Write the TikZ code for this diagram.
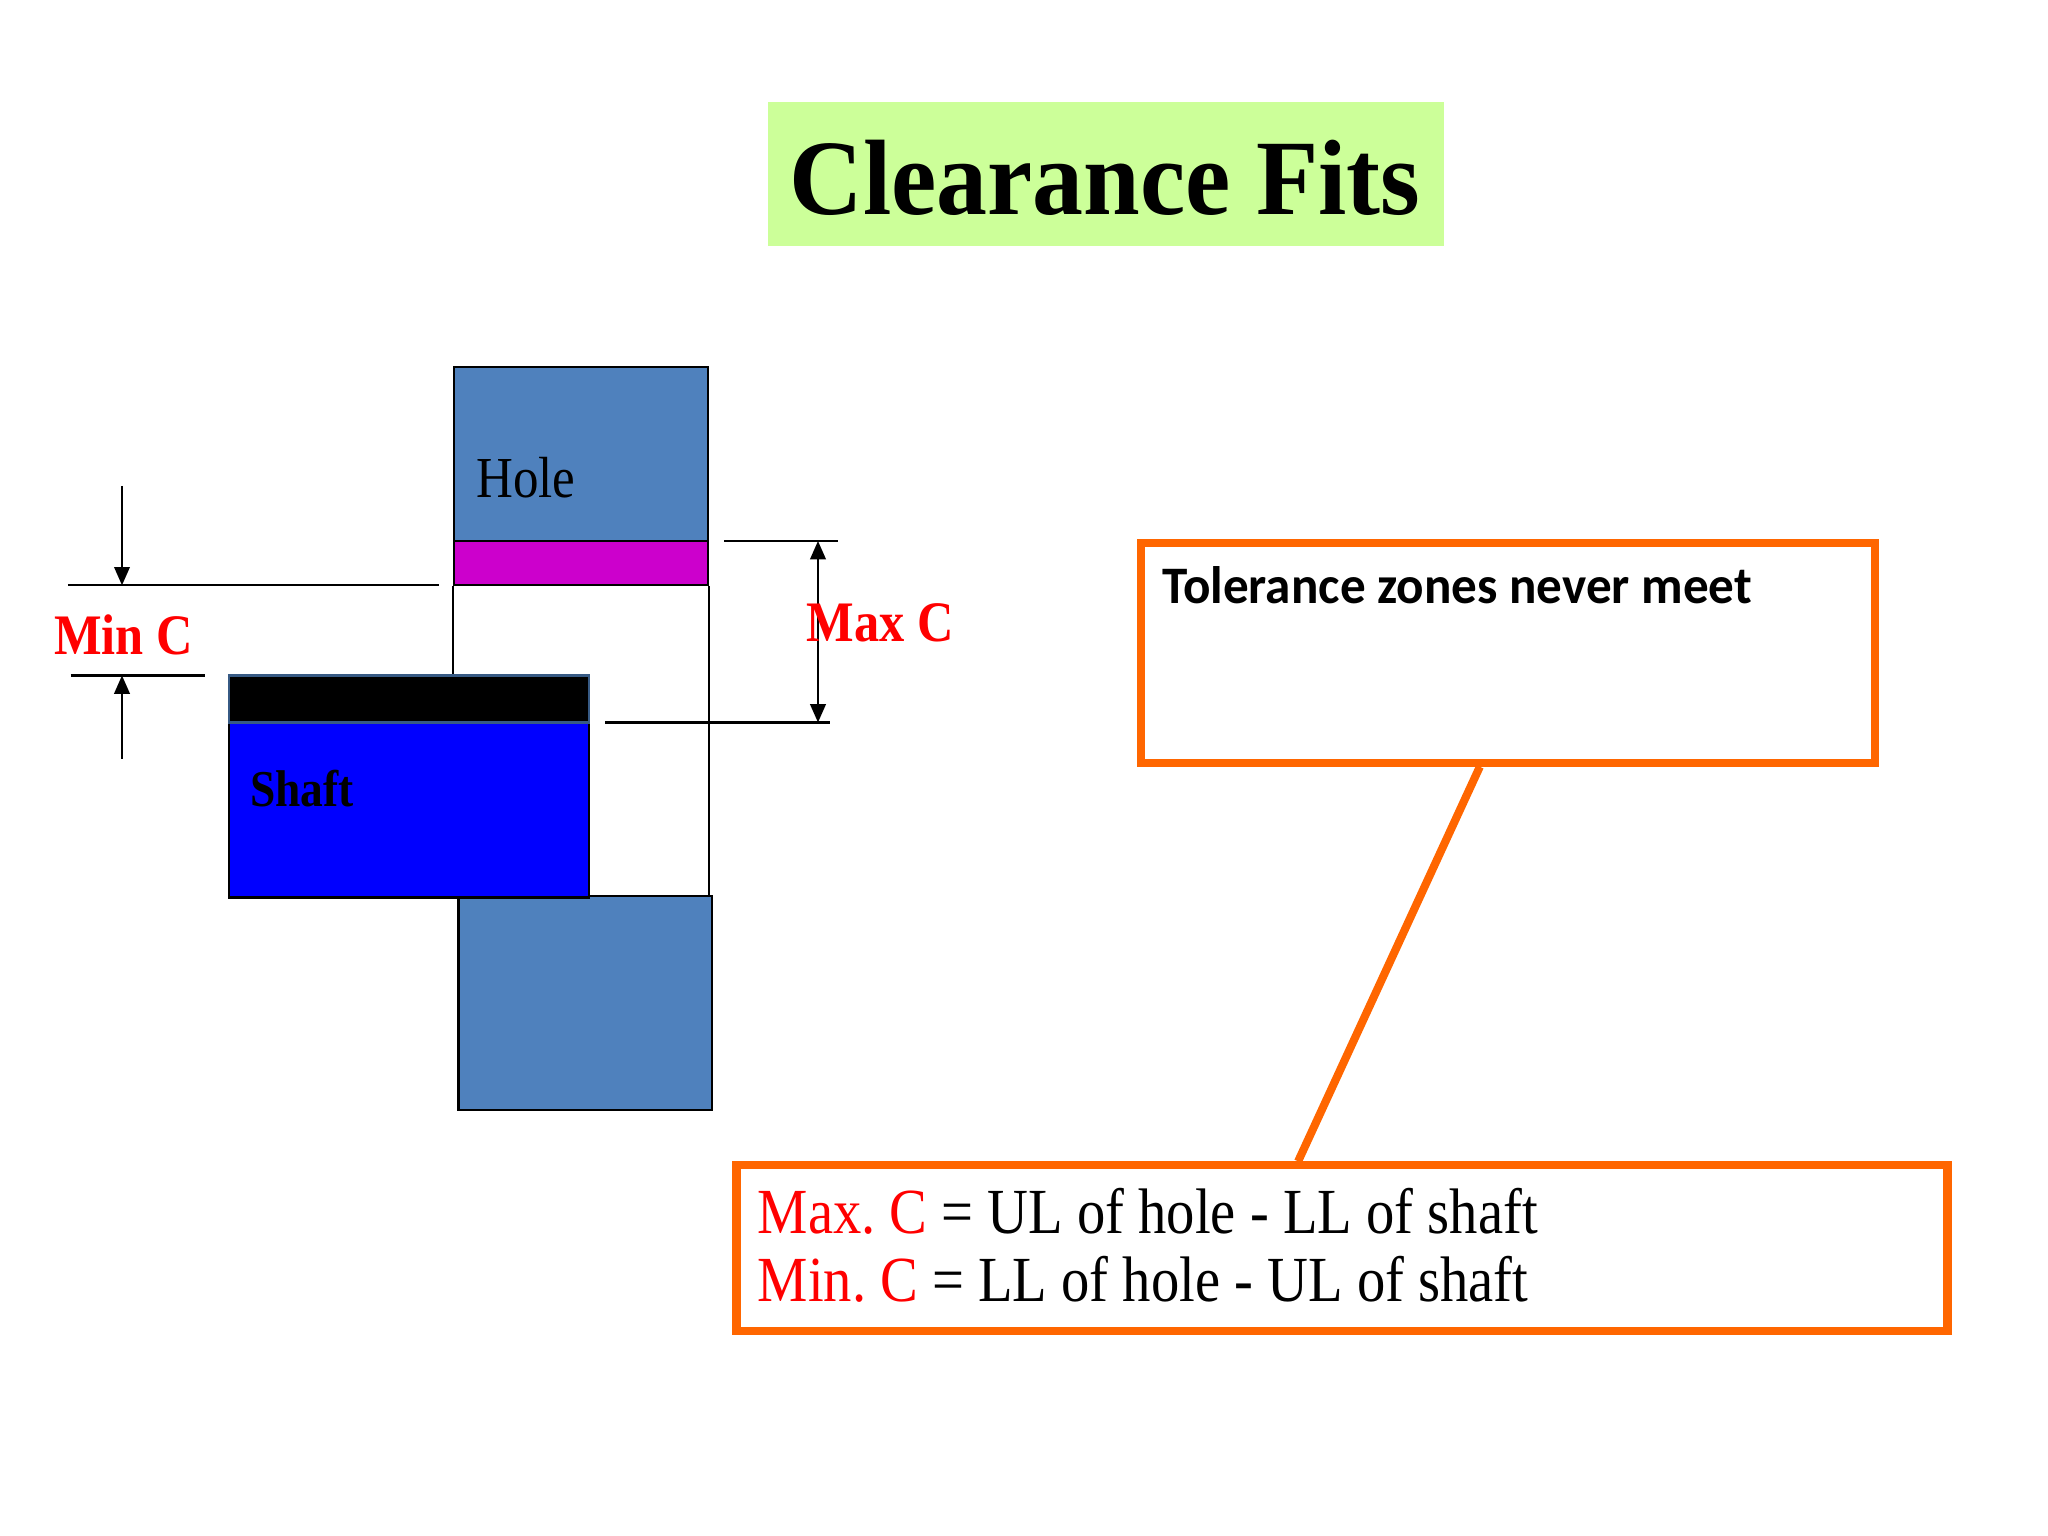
\documentclass[tikz,border=0pt]{standalone}
\usepackage{fontspec}
\setmainfont[FakeStretch=0.88]{Liberation Serif}
\newfontfamily\titlefont[FakeStretch=0.95]{Liberation Serif}
\newfontfamily\notefont[FakeStretch=0.97]{Carlito}
\usetikzlibrary{arrows.meta,calc}
\definecolor{holeblue}{HTML}{4F81BD}
\definecolor{bandpurple}{HTML}{CC00CC}
\definecolor{titlegreen}{HTML}{CCFF99}
\definecolor{noteorange}{HTML}{FF6600}
\frenchspacing
\begin{document}
\begin{tikzpicture}
    [%%%%%%%%%%%%%%%%%%%%%%%%%%%%%%
        part/.style={rectangle,draw=black,line width=0.6pt,inner sep=0pt},
        notebox/.style={rectangle,draw=noteorange,line width=2.3pt,fill=white,inner sep=0pt},
        dimline/.style={draw=black,line width=0.6pt},
        dimarrow/.style={draw=black,line width=0.65pt,-{Triangle[length=5.2pt,width=4.4pt]}},
        label/.style={anchor=base west,inner sep=0pt},
        dimlabel/.style={label,text=red,font=\fontsize{16.3}{16.3}\selectfont\bfseries},
    ]%%%%%%%%%%%%%%%%%%%%%%%%%%%%%%
    \useasboundingbox (0,0) rectangle (20.48,15.36);
    \node[rectangle,fill=titlegreen,inner sep=0pt,minimum width=6.755cm,minimum height=1.44cm] (titlebox) at (11.06,13.62) {};
    \node[label,font=\fontsize{30.5}{30.5}\selectfont\titlefont\bfseries] (title) at (7.89,13.21) {Clearance Fits};

    % hole
    \node[part,fill=holeblue,minimum width=2.535cm,minimum height=1.74cm] (holetop) at (5.81,10.82) {};
    \node[part,fill=bandpurple,minimum width=2.535cm,minimum height=0.44cm] (holeband) at (5.81,9.73) {};
    \node[part,fill=holeblue,minimum width=2.535cm,minimum height=2.14cm] (holebottom) at (5.853,5.326) {};
    \draw[dimline] (holeband.south west) -- (holeband.south west |- holebottom.north);
    \draw[dimline] (holeband.south east) -- (holeband.south east |- holebottom.north);
    \node[label,font=\fontsize{16.5}{16.5}\selectfont] (holelabel) at (4.756,10.38) {Hole};

    % shaft
    \node[part,fill=blue,minimum width=3.606cm,minimum height=1.75cm] (shaftbody) at (4.089,7.26) {};
    \node[part,draw=holeblue!70!black,fill=black,minimum width=3.606cm,minimum height=0.47cm] (shaftband) at (4.089,8.37) {};
    \node[label,font=\fontsize{14.7}{14.7}\selectfont\bfseries] (shaftlabel) at (2.495,7.295) {Shaft};

    % min clearance
    \coordinate (minupa) at (0.68,9.507);
    \coordinate (minupb) at (4.39,9.507);
    \coordinate (minlowa) at (0.705,8.605);
    \coordinate (minlowb) at (2.05,8.605);
    \coordinate (minfroma) at (1.22,10.50);
    \coordinate (minfromb) at (1.22,7.77);
    \draw[dimline] (minupa) -- (minupb);
    \draw[dimline] (minlowa) -- (minlowb);
    \draw[dimarrow] (minfroma) -- (minfroma |- minupa);
    \draw[dimarrow] (minfromb) -- (minfromb |- minlowa);
    \node[dimlabel] (minlabel) at (0.536,8.815) {Min C};

    % max clearance
    \coordinate (maxupa) at (7.24,9.95);
    \coordinate (maxupb) at (8.375,9.95);
    \coordinate (maxlowa) at (6.05,8.135);
    \coordinate (maxlowb) at (8.30,8.135);
    \coordinate (maxmid) at (8.18,9.04);
    \draw[dimline] (maxupa) -- (maxupb);
    \draw[dimline] (maxlowa) -- (maxlowb);
    \draw[dimarrow] (maxmid) -- (maxmid |- maxupa);
    \draw[dimarrow] (maxmid) -- (maxmid |- maxlowa);
    \node[dimlabel] (maxlabel) at (8.06,8.945) {Max C};

    % notes
    \node[notebox,minimum width=7.34cm,minimum height=2.195cm] (zonebox) at (15.08,8.83) {};
    \node[notebox,minimum width=12.11cm,minimum height=1.66cm] (fitbox) at (13.42,2.876) {};
    \draw[draw=noteorange,line width=2.3pt] ($(zonebox.south west)!0.462!(zonebox.south east)$) -- ($(fitbox.north west)!0.464!(fitbox.north east)$);
    \node[label,font=\fontsize{15}{15}\selectfont\notefont\bfseries] (zonelabel) at (11.615,9.325) {Tolerance zones never meet};
    \node[label,font=\fontsize{18.3}{18.3}\selectfont] (maxrule) at (7.57,3.025) {\textcolor{red}{Max. C} = UL of hole - LL of shaft};
    \node[label,font=\fontsize{18.3}{18.3}\selectfont] (minrule) at (7.57,2.345) {\textcolor{red}{Min. C} = LL of hole - UL of shaft};
\end{tikzpicture}
\end{document}
